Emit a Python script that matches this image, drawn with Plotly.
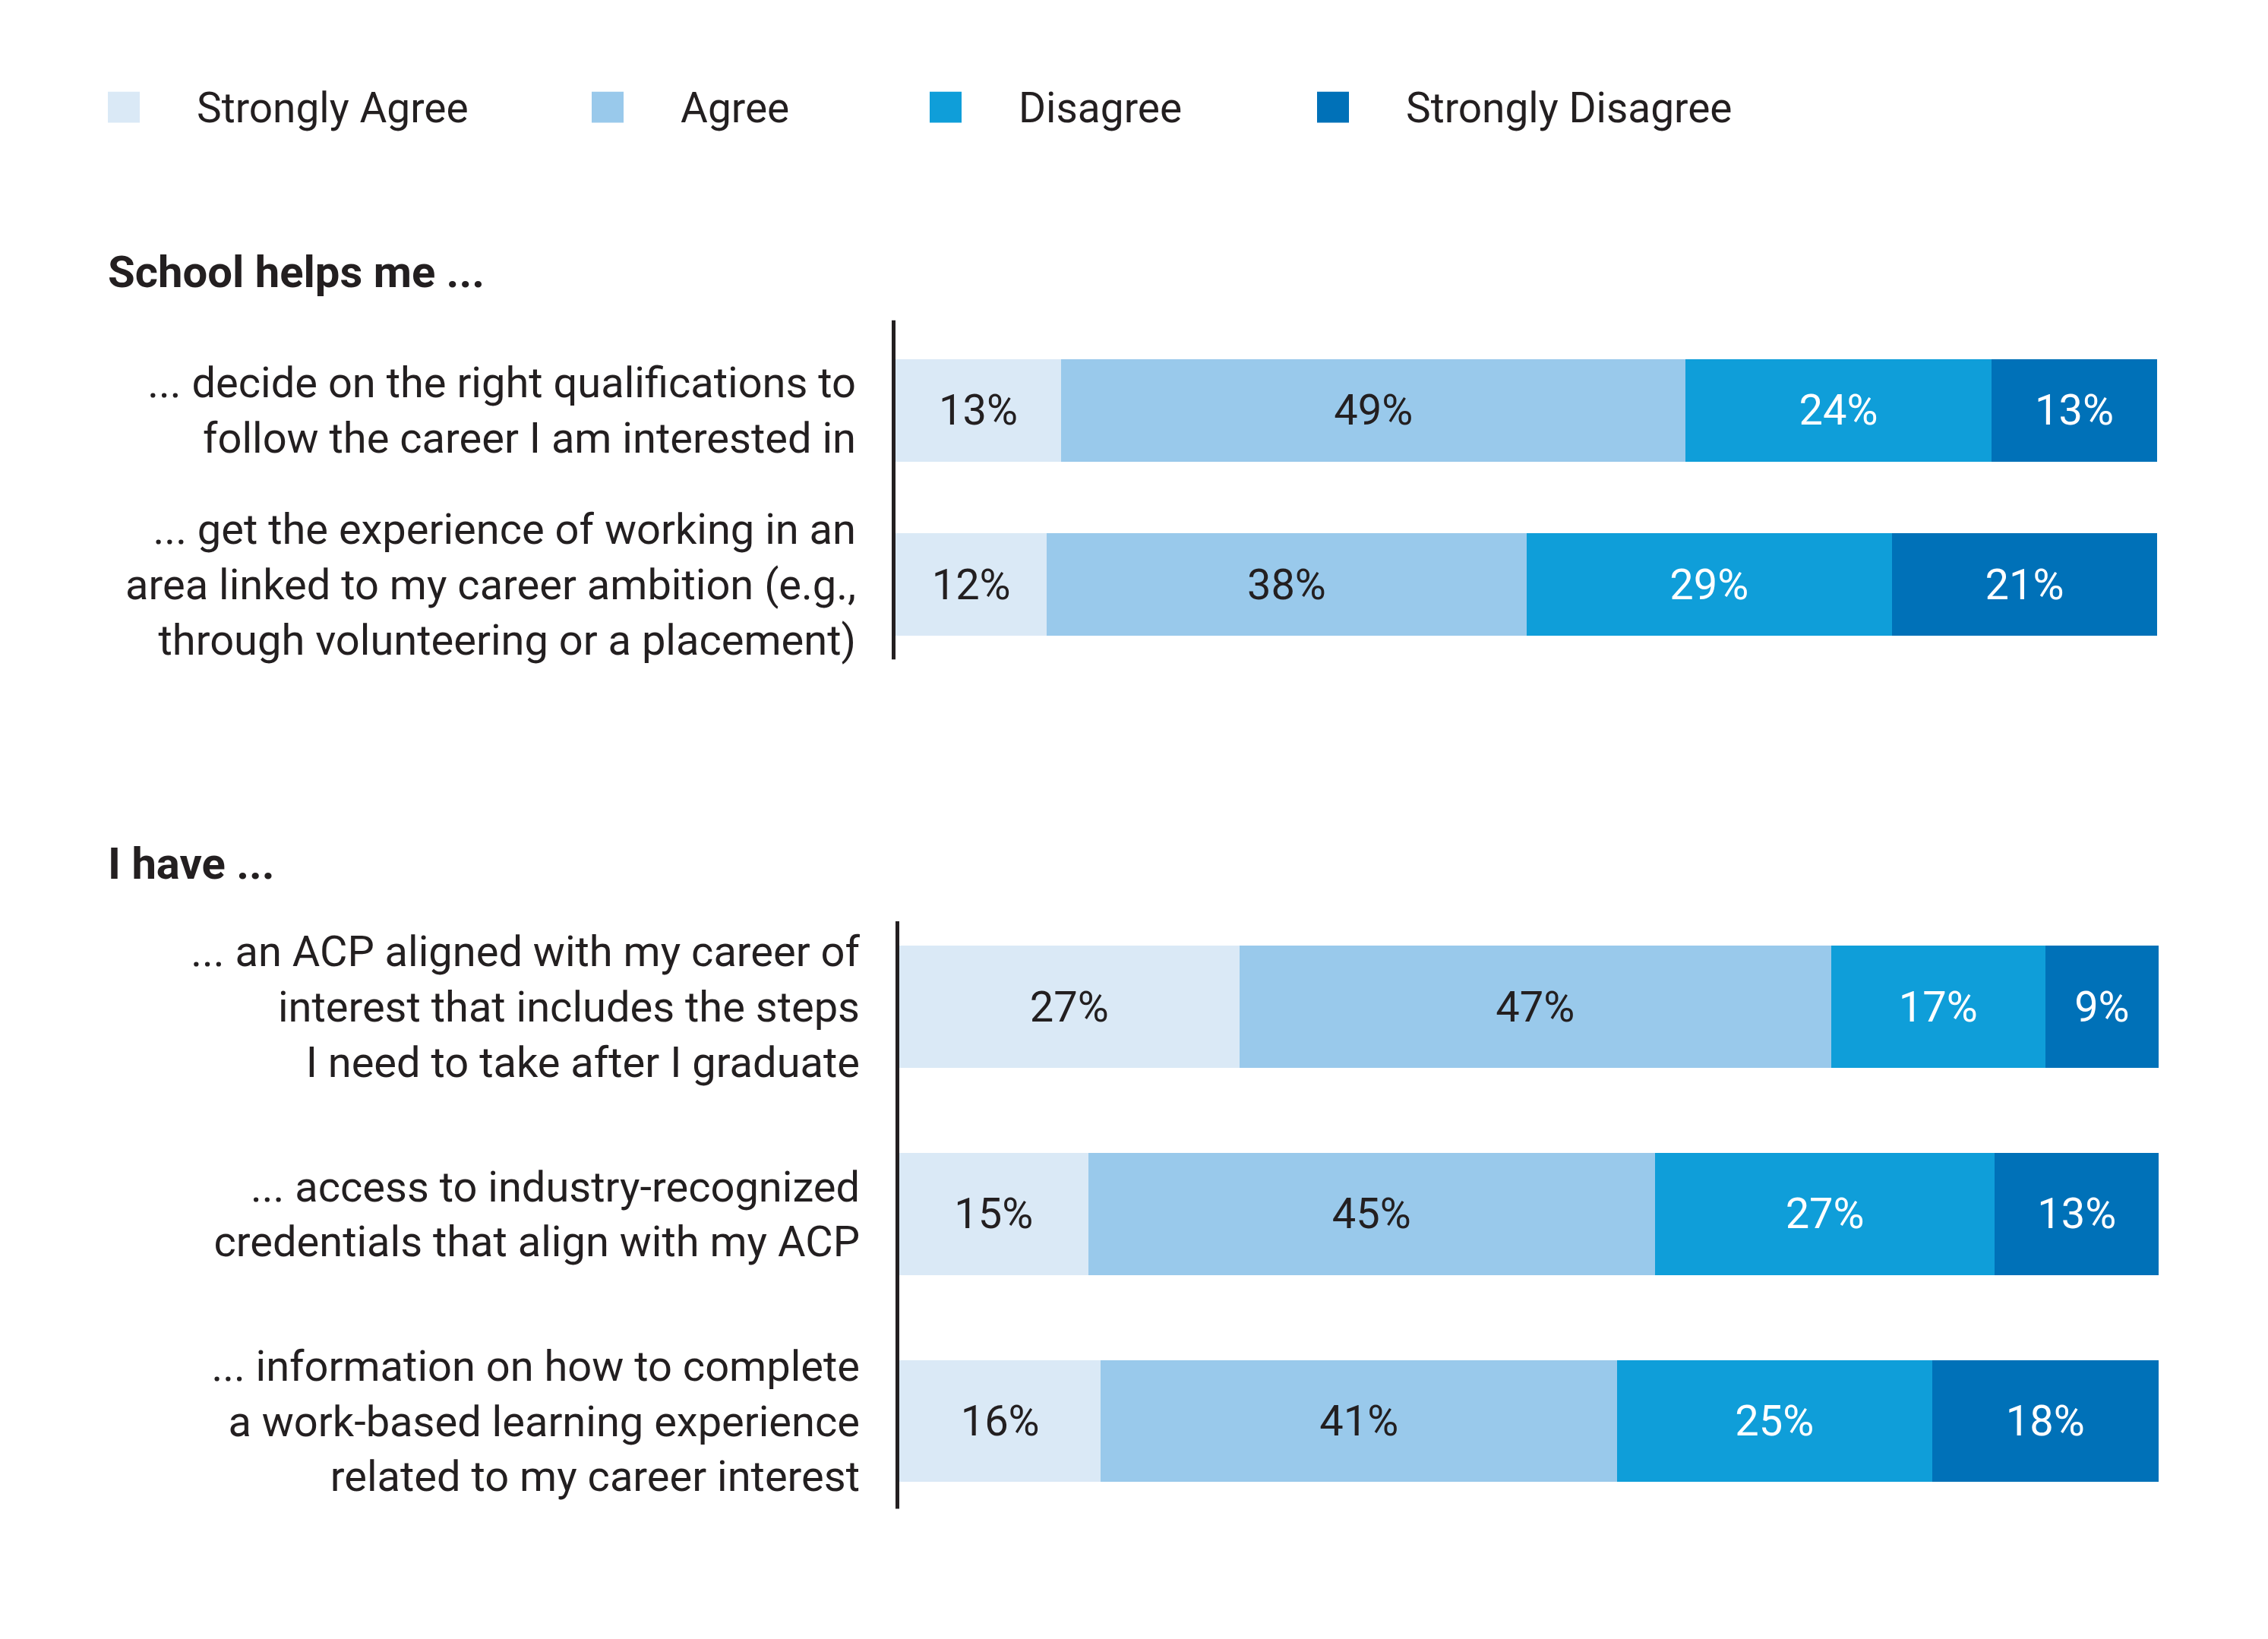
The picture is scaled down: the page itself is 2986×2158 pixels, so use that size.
import plotly.graph_objects as go

# ---------------- data ----------------
series = ["Strongly Agree", "Agree", "Disagree", "Strongly Disagree"]
colors = ["#DAE9F6", "#99C9EB", "#0F9ED9", "#0071B8"]
text_colors = ["#231F20", "#231F20", "#FFFFFF", "#FFFFFF"]

group1_title = "School helps me ..."
group1_labels = [
    "... decide on the right qualifications to<br>follow the career I am interested in",
    "... get the experience of working in an<br>area linked to my career ambition (e.g.,<br>through volunteering or a placement)",
]
group1_strongly_agree = [13, 12]
group1_agree = [49, 38]
group1_disagree = [24, 29]
group1_strongly_disagree = [13, 21]

group2_title = "I have ..."
group2_labels = [
    "... an ACP aligned with my career of<br>interest that includes the steps<br>I need to take after I graduate",
    "... access to industry-recognized<br>credentials that align with my ACP",
    "... information on how to complete<br>a work-based learning experience<br>related to my career interest",
]
group2_strongly_agree = [27, 15, 16]
group2_agree = [47, 45, 41]
group2_disagree = [17, 27, 25]
group2_strongly_disagree = [9, 13, 18]

# ---------------- layout constants ----------------
W, H = 2986, 2158
FONT = "Roboto"
TXT = "#231F20"
FS_LABEL = 56
FS_LEGEND = 55
FS_TITLE = 58
FS_BAR = 56


def ax(x):
    return x / W


def ay(y):
    return 1 - y / H


fig = go.Figure()

groups = [
    (group1_labels, [group1_strongly_agree, group1_agree, group1_disagree, group1_strongly_disagree], "x", "y"),
    (group2_labels, [group2_strongly_agree, group2_agree, group2_disagree, group2_strongly_disagree], "x2", "y2"),
]

for labels, vals, xa, ya in groups:
    n = len(labels)
    totals = [sum(v[i] for v in vals) for i in range(n)]
    for s, name in enumerate(series):
        shares = [vals[s][i] / totals[i] * 100 for i in range(n)]
        fig.add_trace(go.Bar(
            x=shares,
            y=list(range(n)),
            orientation="h",
            name=name,
            marker=dict(color=colors[s], line=dict(width=0)),
            text=[f"{v}%" for v in vals[s]],
            textposition="inside",
            insidetextanchor="middle",
            textangle=0,
            constraintext="none",
            textfont=dict(family=FONT, size=FS_BAR, color=text_colors[s]),
            xaxis=xa,
            yaxis=ya,
            showlegend=False,
            hoverinfo="skip",
        ))

axis_common_x = dict(range=[0, 100], showgrid=False, zeroline=False, showticklabels=False,
                     showline=False, fixedrange=True)
axis_common_y = dict(showgrid=False, zeroline=False, ticks="", showline=False,
                     tickfont=dict(family=FONT, size=FS_LABEL, color=TXT),
                     ticklabelstandoff=51, fixedrange=True)

fig.update_layout(
    width=W, height=H,
    margin=dict(l=0, r=0, t=0, b=0),
    paper_bgcolor="white", plot_bgcolor="white",
    barmode="stack", bargap=0.41,
    showlegend=False,
    font=dict(family=FONT, color=TXT, size=FS_LABEL),
    xaxis=dict(domain=[ax(1171), ax(2832)], anchor="y", **axis_common_x),
    yaxis=dict(domain=[ay(863), ay(415)], anchor="x",
               range=[1.43, -0.517], tickvals=list(range(len(group1_labels))),
               ticktext=group1_labels, **axis_common_y),
    xaxis2=dict(domain=[ax(1176), ax(2834)], anchor="y2", **axis_common_x),
    yaxis2=dict(domain=[ay(1985), ay(1209)], anchor="x2",
                range=[2.424, -0.413], tickvals=list(range(len(group2_labels))),
                ticktext=group2_labels, **axis_common_y),
)

shapes = []
annotations = []

# vertical axis lines at the left of each bar group
for xline, ytop, ybot in [(1168.5, 415, 863), (1173.5, 1209, 1985)]:
    shapes.append(dict(type="line", xref="paper", yref="paper",
                       x0=ax(xline), x1=ax(xline), y0=ay(ytop), y1=ay(ybot),
                       line=dict(color=TXT, width=5)))

# legend (manual, larger swatches)
legend_x = [134, 771, 1216, 1726]
for i, name in enumerate(series):
    shapes.append(dict(type="rect", xref="paper", yref="paper",
                       x0=ax(legend_x[i]), x1=ax(legend_x[i] + 42),
                       y0=ay(154), y1=ay(113),
                       fillcolor=colors[i], line=dict(width=0)))
    annotations.append(dict(xref="paper", yref="paper", x=ax(legend_x[i] + 115), y=ay(134),
                            xanchor="left", yanchor="middle", showarrow=False,
                            text=name, font=dict(family=FONT, size=FS_LEGEND, color=TXT)))

for title, ypx in [(group1_title, 351), (group2_title, 1133)]:
    annotations.append(dict(xref="paper", yref="paper", x=ax(132), y=ay(ypx),
                            xanchor="left", yanchor="middle", showarrow=False,
                            text=f"<b>{title}</b>", font=dict(family=FONT, size=FS_TITLE, color=TXT)))

fig.update_layout(shapes=shapes, annotations=annotations)

fig.write_html("out.html")
